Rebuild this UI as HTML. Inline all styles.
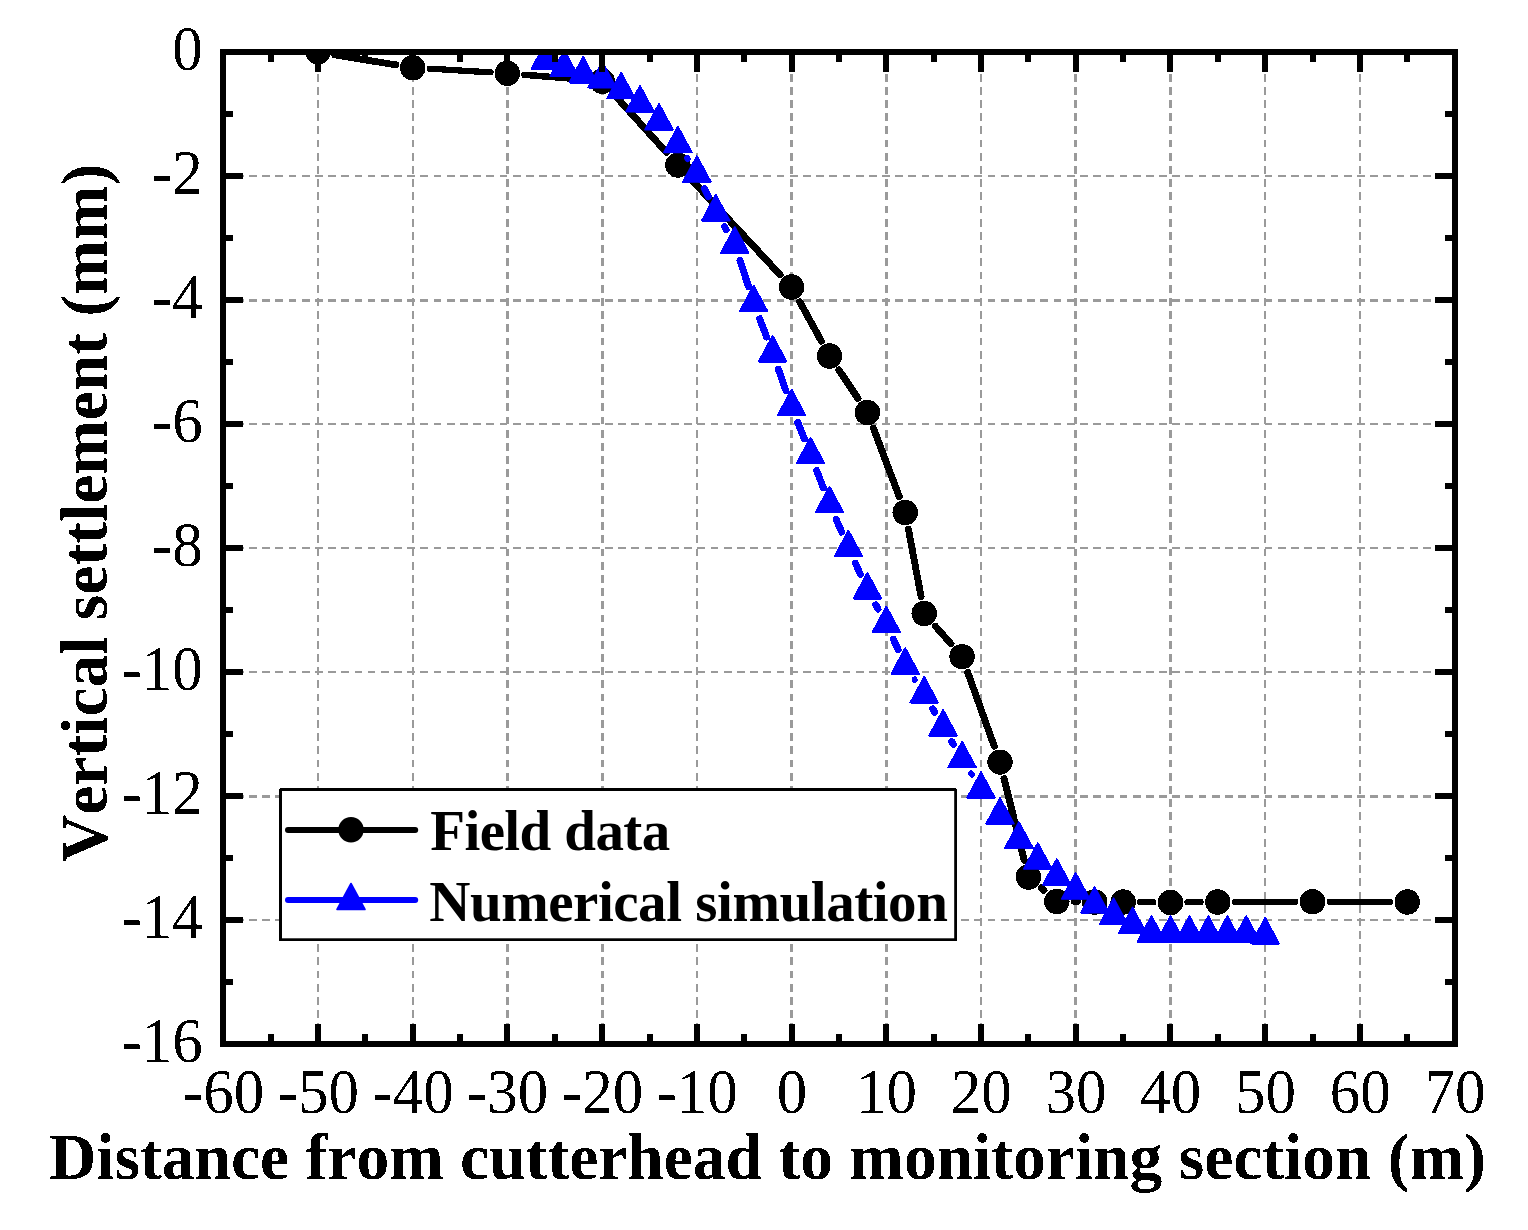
<!DOCTYPE html>
<html><head><meta charset="utf-8"><title>Settlement chart</title>
<style>html,body{margin:0;padding:0;background:#fff}svg{display:block}text{font-kerning:none;font-family:"Liberation Serif","Times New Roman",serif;fill:#000}.b{font-weight:bold}</style></head><body>
<svg width="1528" height="1230" viewBox="0 0 1528 1230">
<rect width="1528" height="1230" fill="#fff"/>
<defs><filter id="th" x="-5%" y="-5%" width="110%" height="110%" color-interpolation-filters="sRGB"><feComponentTransfer><feFuncA type="discrete" tableValues="0 1"/></feComponentTransfer></filter><clipPath id="pc"><rect x="223" y="52" width="1232" height="992"/></clipPath></defs>
<g fill="none" stroke="#9a9a9a" stroke-dasharray="7.8 5.39" shape-rendering="crispEdges"><path d="M318 1044.4 V52 M413 1044.4 V52 M697 1044.4 V52 M981 1044.4 V52 M1265 1044.4 V52 M1360 1044.4 V52 M222.6 176 H1455 M222.6 424 H1455 M222.6 548 H1455 M222.6 672 H1455 M222.6 920 H1455" stroke-width="2"/><path d="M507.5 1044.4 V52 M602.5 1044.4 V52 M791.5 1044.4 V52 M886.5 1044.4 V52 M1075.5 1044.4 V52 M1170.5 1044.4 V52 M222.6 300.5 H1455 M222.6 796.5 H1455" stroke-width="3"/></g>
<g clip-path="url(#pc)"><g filter="url(#th)">
<g fill="none" stroke="#000" stroke-linecap="round">
<path d="M334.8 54.8 L396.0 64.9" stroke-width="6.8"/>
<path d="M429.7 68.7 L490.5 72.3" stroke-width="6.3"/>
<path d="M524.4 74.7 L585.2 79.8" stroke-width="6.4"/>
<path d="M613.6 93.8 L666.5 152.5" stroke-width="7.0"/>
<path d="M689.5 177.5 L780.0 274.6" stroke-width="7.0"/>
<path d="M799.8 301.9 L821.3 341.0" stroke-width="7.0"/>
<path d="M838.9 370.0 L857.9 398.3" stroke-width="7.0"/>
<path d="M873.4 428.3 L899.2 496.6" stroke-width="7.0"/>
<path d="M908.4 529.2 L921.1 596.7" stroke-width="6.9"/>
<path d="M935.4 626.2 L950.9 643.8" stroke-width="7.0"/>
<path d="M967.8 672.6 L994.2 746.1" stroke-width="7.0"/>
<path d="M1004.0 778.6 L1024.3 860.4" stroke-width="7.0"/>
<path d="M1041.3 888.0 L1043.9 890.3" stroke-width="7.0"/>
<path d="M1073.8 901.7 L1077.7 901.7" stroke-width="6.1"/>
<path d="M1140.1 902.1 L1153.5 902.3" stroke-width="6.0"/>
<path d="M1187.4 902.3 L1200.8 902.1" stroke-width="6.0"/>
<path d="M1234.8 901.9 L1295.5 901.8" stroke-width="6.0"/>
<path d="M1329.5 901.7 L1390.2 901.9" stroke-width="6.0"/>
</g>
<circle cx="318.0" cy="52.0" r="12.7"/>
<circle cx="412.7" cy="67.7" r="12.7"/>
<circle cx="507.4" cy="73.3" r="12.7"/>
<circle cx="602.2" cy="81.2" r="12.7"/>
<circle cx="677.9" cy="165.1" r="12.7"/>
<circle cx="791.6" cy="287.0" r="12.7"/>
<circle cx="829.5" cy="355.9" r="12.7"/>
<circle cx="867.4" cy="412.4" r="12.7"/>
<circle cx="905.2" cy="512.5" r="12.7"/>
<circle cx="924.2" cy="613.4" r="12.7"/>
<circle cx="962.1" cy="656.6" r="12.7"/>
<circle cx="1000.0" cy="762.1" r="12.7"/>
<circle cx="1028.4" cy="876.9" r="12.7"/>
<circle cx="1056.8" cy="901.4" r="12.7"/>
<circle cx="1094.7" cy="902.0" r="12.7"/>
<circle cx="1123.1" cy="902.0" r="12.7"/>
<circle cx="1170.5" cy="902.4" r="12.7"/>
<circle cx="1217.8" cy="902.0" r="12.7"/>
<circle cx="1312.5" cy="901.7" r="12.7"/>
<circle cx="1407.2" cy="901.9" r="12.7"/>
<g fill="none" stroke="#00f" stroke-linecap="round">
<path d="M687.1 158.1 L687.7 159.0" stroke-width="6.0"/>
<path d="M704.4 188.6 L708.3 196.7" stroke-width="7.0"/>
<path d="M724.4 226.6 L726.2 229.7" stroke-width="7.0"/>
<path d="M740.0 260.5 L748.5 286.7" stroke-width="7.0"/>
<path d="M759.7 318.7 L766.6 337.0" stroke-width="7.0"/>
<path d="M778.3 369.0 L786.0 390.8" stroke-width="7.0"/>
<path d="M797.8 422.6 L804.3 438.9" stroke-width="7.0"/>
<path d="M816.7 470.6 L823.4 488.0" stroke-width="7.0"/>
<path d="M836.2 519.4 L841.7 532.0" stroke-width="7.0"/>
<path d="M855.4 563.1 L860.4 574.4" stroke-width="7.0"/>
<path d="M875.7 604.8 L878.0 609.0" stroke-width="7.0"/>
<path d="M893.4 639.3 L898.2 649.8" stroke-width="7.0"/>
<path d="M914.6 679.4 L914.8 679.8" stroke-width="6.0"/>
<path d="M932.7 708.8 L934.7 712.3" stroke-width="7.0"/>
<path d="M951.8 741.6 L953.4 744.2" stroke-width="7.0"/>
<path d="M971.1 773.2 L972.0 774.7" stroke-width="6.0"/>
</g>
<path d="M545.3 42.9 l14.00 26.0 h-28.00 z M564.3 50.2 l14.00 26.0 h-28.00 z M583.2 56.6 l14.00 26.0 h-28.00 z M602.2 61.7 l14.00 26.0 h-28.00 z M621.1 72.5 l14.00 26.0 h-28.00 z M640.0 85.7 l14.00 26.0 h-28.00 z M659.0 103.7 l14.00 26.0 h-28.00 z M677.9 126.5 l14.00 26.0 h-28.00 z M696.9 156.0 l14.00 26.0 h-28.00 z M715.8 194.6 l14.00 26.0 h-28.00 z M734.8 227.0 l14.00 26.0 h-28.00 z M753.7 285.5 l14.00 26.0 h-28.00 z M772.6 335.6 l14.00 26.0 h-28.00 z M791.6 389.5 l14.00 26.0 h-28.00 z M810.5 437.4 l14.00 26.0 h-28.00 z M829.5 486.5 l14.00 26.0 h-28.00 z M848.4 530.3 l14.00 26.0 h-28.00 z M867.4 572.6 l14.00 26.0 h-28.00 z M886.3 606.5 l14.00 26.0 h-28.00 z M905.2 647.9 l14.00 26.0 h-28.00 z M924.2 676.7 l14.00 26.0 h-28.00 z M943.1 709.7 l14.00 26.0 h-28.00 z M962.1 741.5 l14.00 26.0 h-28.00 z M981.0 771.8 l14.00 26.0 h-28.00 z M1000.0 797.8 l14.00 26.0 h-28.00 z M1018.9 822.0 l14.00 26.0 h-28.00 z M1037.8 843.0 l14.00 26.0 h-28.00 z M1056.8 858.9 l14.00 26.0 h-28.00 z M1075.7 873.0 l14.00 26.0 h-28.00 z M1094.7 886.8 l14.00 26.0 h-28.00 z M1113.6 898.2 l14.00 26.0 h-28.00 z M1132.6 907.4 l14.00 26.0 h-28.00 z M1151.5 916.0 l14.00 26.0 h-28.00 z M1170.5 915.8 l14.00 26.0 h-28.00 z M1189.4 915.8 l14.00 26.0 h-28.00 z M1208.3 915.8 l14.00 26.0 h-28.00 z M1227.3 915.8 l14.00 26.0 h-28.00 z M1246.2 915.8 l14.00 26.0 h-28.00 z M1265.2 917.7 l14.00 26.0 h-28.00 z" fill="#00f" stroke="#00f" stroke-width="1.6" stroke-linejoin="round"/>
</g></g>
<rect x="223" y="52" width="1232" height="992" fill="none" stroke="#000" stroke-width="6" shape-rendering="crispEdges"/>
<path d="M271 52 v10 M271 1044 v-10 M318 52 v20 M318 1044 v-20 M365 52 v10 M365 1044 v-10 M413 52 v20 M413 1044 v-20 M460 52 v10 M460 1044 v-10 M507 52 v20 M507 1044 v-20 M555 52 v10 M555 1044 v-10 M602 52 v20 M602 1044 v-20 M650 52 v10 M650 1044 v-10 M697 52 v20 M697 1044 v-20 M744 52 v10 M744 1044 v-10 M792 52 v20 M792 1044 v-20 M839 52 v10 M839 1044 v-10 M886 52 v20 M886 1044 v-20 M934 52 v10 M934 1044 v-10 M981 52 v20 M981 1044 v-20 M1028 52 v10 M1028 1044 v-10 M1076 52 v20 M1076 1044 v-20 M1123 52 v10 M1123 1044 v-10 M1170 52 v20 M1170 1044 v-20 M1218 52 v10 M1218 1044 v-10 M1265 52 v20 M1265 1044 v-20 M1313 52 v10 M1313 1044 v-10 M1360 52 v20 M1360 1044 v-20 M1407 52 v10 M1407 1044 v-10 M223 114 h10 M1455 114 h-10 M223 176 h20 M1455 176 h-20 M223 238 h10 M1455 238 h-10 M223 300 h20 M1455 300 h-20 M223 362 h10 M1455 362 h-10 M223 424 h20 M1455 424 h-20 M223 486 h10 M1455 486 h-10 M223 548 h20 M1455 548 h-20 M223 610 h10 M1455 610 h-10 M223 672 h20 M1455 672 h-20 M223 734 h10 M1455 734 h-10 M223 796 h20 M1455 796 h-20 M223 858 h10 M1455 858 h-10 M223 920 h20 M1455 920 h-20 M223 982 h10 M1455 982 h-10" fill="none" stroke="#000" stroke-width="6" shape-rendering="crispEdges"/>
<g filter="url(#th)">
<g font-size="63">
<text transform="translate(223.6 1112.6) scale(0.968 1)" text-anchor="middle">-60</text>
<text transform="translate(318.3 1112.6) scale(0.968 1)" text-anchor="middle">-50</text>
<text transform="translate(413.0 1112.6) scale(0.968 1)" text-anchor="middle">-40</text>
<text transform="translate(507.7 1112.6) scale(0.968 1)" text-anchor="middle">-30</text>
<text transform="translate(602.5 1112.6) scale(0.968 1)" text-anchor="middle">-20</text>
<text transform="translate(697.2 1112.6) scale(0.968 1)" text-anchor="middle">-10</text>
<text transform="translate(791.9 1112.6) scale(0.968 1)" text-anchor="middle">0</text>
<text transform="translate(886.6 1112.6) scale(0.968 1)" text-anchor="middle">10</text>
<text transform="translate(981.3 1112.6) scale(0.968 1)" text-anchor="middle">20</text>
<text transform="translate(1076.0 1112.6) scale(0.968 1)" text-anchor="middle">30</text>
<text transform="translate(1170.8 1112.6) scale(0.968 1)" text-anchor="middle">40</text>
<text transform="translate(1265.5 1112.6) scale(0.968 1)" text-anchor="middle">50</text>
<text transform="translate(1360.2 1112.6) scale(0.968 1)" text-anchor="middle">60</text>
<text transform="translate(1454.9 1112.6) scale(0.968 1)" text-anchor="middle">70</text>
<text transform="translate(202.7 69.8) scale(0.968 1)" text-anchor="end">0</text>
<text transform="translate(202.7 193.8) scale(0.968 1)" text-anchor="end">-2</text>
<text transform="translate(202.7 317.8) scale(0.968 1)" text-anchor="end">-4</text>
<text transform="translate(202.7 441.8) scale(0.968 1)" text-anchor="end">-6</text>
<text transform="translate(202.7 565.8) scale(0.968 1)" text-anchor="end">-8</text>
<text transform="translate(202.7 689.8) scale(0.968 1)" text-anchor="end">-10</text>
<text transform="translate(202.7 813.8) scale(0.968 1)" text-anchor="end">-12</text>
<text transform="translate(202.7 937.8) scale(0.968 1)" text-anchor="end">-14</text>
<text transform="translate(202.7 1061.8) scale(0.968 1)" text-anchor="end">-16</text>
</g>
<text class="b" x="49" y="1178.5" font-size="65.5">Distance from cutterhead to monitoring section (m)</text>
<text class="b" transform="translate(106.5 862) rotate(-90)" font-size="65.5">Vertical settlement (mm)</text>
<rect x="280.7" y="789.7" width="674.8" height="149.9" fill="#fff" stroke="#000" stroke-width="2.6"/>
<path d="M288 830 H415.2" stroke="#000" stroke-width="6" stroke-linecap="round" fill="none"/>
<circle cx="351" cy="829.7" r="12.7"/>
<path d="M288 900 H415.2" stroke="#00f" stroke-width="6" stroke-linecap="round" fill="none"/>
<path d="M351 883.5 l14.00 26 h-28.00 z" fill="#00f" stroke="#00f" stroke-width="1.6" stroke-linejoin="round"/>
<text class="b" x="430.2" y="850.4" font-size="57" letter-spacing="-0.6">Field data</text>
<text class="b" x="429.2" y="920.5" font-size="57" letter-spacing="-0.45">Numerical simulation</text>
</g>
</svg></body></html>
